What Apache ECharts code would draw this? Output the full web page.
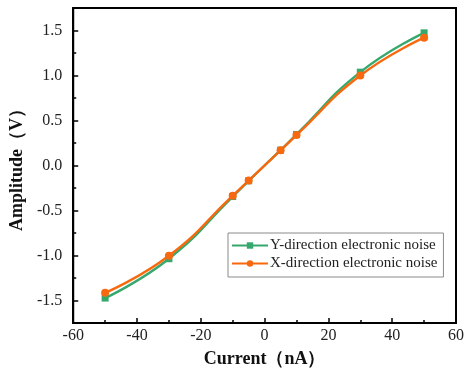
<!DOCTYPE html>
<html><head><meta charset="utf-8">
<script src="https://cdn.jsdelivr.net/npm/echarts@6/dist/echarts.min.js"></script>
<style>html,body{margin:0;padding:0;background:#fff}#c{width:474px;height:377px}</style>
</head><body><div id="c"></div>
<script>
const currents = [-50, -30, -10, -5, 5, 10, 30, 50];
const yDirection = [-1.473, -1.036, -0.345, -0.170, 0.170, 0.345, 1.037, 1.474];
const xDirection = [-1.415, -1.003, -0.335, -0.168, 0.169, 0.338, 1.000, 1.420];
const seriesNames = ['Y-direction electronic noise', 'X-direction electronic noise'];
const yTickLabels = [-1.5, -1.0, -0.5, 0.0, 0.5, 1.0, 1.5];
const xTickLabels = [-60, -40, -20, 0, 20, 40, 60];

const FONT = '"Liberation Serif","Times New Roman",serif';
const chart = echarts.init(document.getElementById('c'));
const pair = arr => currents.map((c, i) => [c, arr[i]]);
chart.setOption({
  animation: false,
  grid: {left: 64, right: 18, top: 8, bottom: 54, show: true, borderColor: '#000', borderWidth: 2, backgroundColor: 'transparent'},
  legend: {
    left: 228, top: 233, orient: 'vertical', itemGap: 3, itemWidth: 36, itemHeight: 8,
    borderColor: '#8a8a8a', borderWidth: 1, padding: [5, 6, 6, 3], borderRadius: 0,
    textStyle: {fontFamily: FONT, fontSize: 15, color: '#222', padding: [0,0,0,-3]},
    data: seriesNames
  },
  xAxis: {
    type: 'value', min: -60, max: 60, interval: 20,
    name: 'Current（nA）', nameLocation: 'middle', nameGap: 27,
    nameTextStyle: {fontFamily: FONT, fontSize: 18, fontWeight: 'bold', color: '#111'},
    axisLine: {onZero: false, lineStyle: {color: '#000', width: 2}},
    axisTick: {inside: true, length: 5, lineStyle: {color: '#000', width: 1.5}},
    minorTick: {show: true, splitNumber: 2, length: 3, lineStyle: {color: '#000', width: 1.5}},
    axisLabel: {fontFamily: FONT, fontSize: 16, color: '#222', margin: 5,
      customValues: xTickLabels},
    splitLine: {show: false}
  },
  yAxis: [{
    type: 'value', min: -1.75, max: 1.75, interval: 0.25,
    name: 'Amplitude（V）', nameLocation: 'middle', nameGap: 37,
    nameTextStyle: {fontFamily: FONT, fontSize: 18, fontWeight: 'bold', color: '#111'},
    axisLine: {onZero: false, lineStyle: {color: '#000', width: 2}},
    axisTick: {inside: true, length: 5, lineStyle: {color: '#000', width: 1.5}, customValues: yTickLabels},
    axisLabel: {fontFamily: FONT, fontSize: 16, color: '#222', margin: 11, customValues: yTickLabels,
      formatter: v => v.toFixed(1)},
    splitLine: {show: false}
  }, {
    type: 'value', min: -1.75, max: 1.75, interval: 0.25, position: 'left',
    axisLine: {show: false, onZero: false},
    axisTick: {inside: true, length: 3, lineStyle: {color: '#000', width: 1.5}},
    axisLabel: {show: false},
    splitLine: {show: false}
  }],
  series: [{
    name: seriesNames[0], type: 'line', smooth: true, data: pair(yDirection),
    symbol: 'rect', symbolSize: 7, color: '#36a86d',
    lineStyle: {width: 2.4, color: '#36a86d'}, itemStyle: {color: '#36a86d'}
  }, {
    name: seriesNames[1], type: 'line', smooth: true, data: pair(xDirection),
    symbol: 'circle', symbolSize: 8, color: '#f8690f',
    lineStyle: {width: 2.4, color: '#f8690f'}, itemStyle: {color: '#f8690f'}
  }]
});
</script></body></html>
